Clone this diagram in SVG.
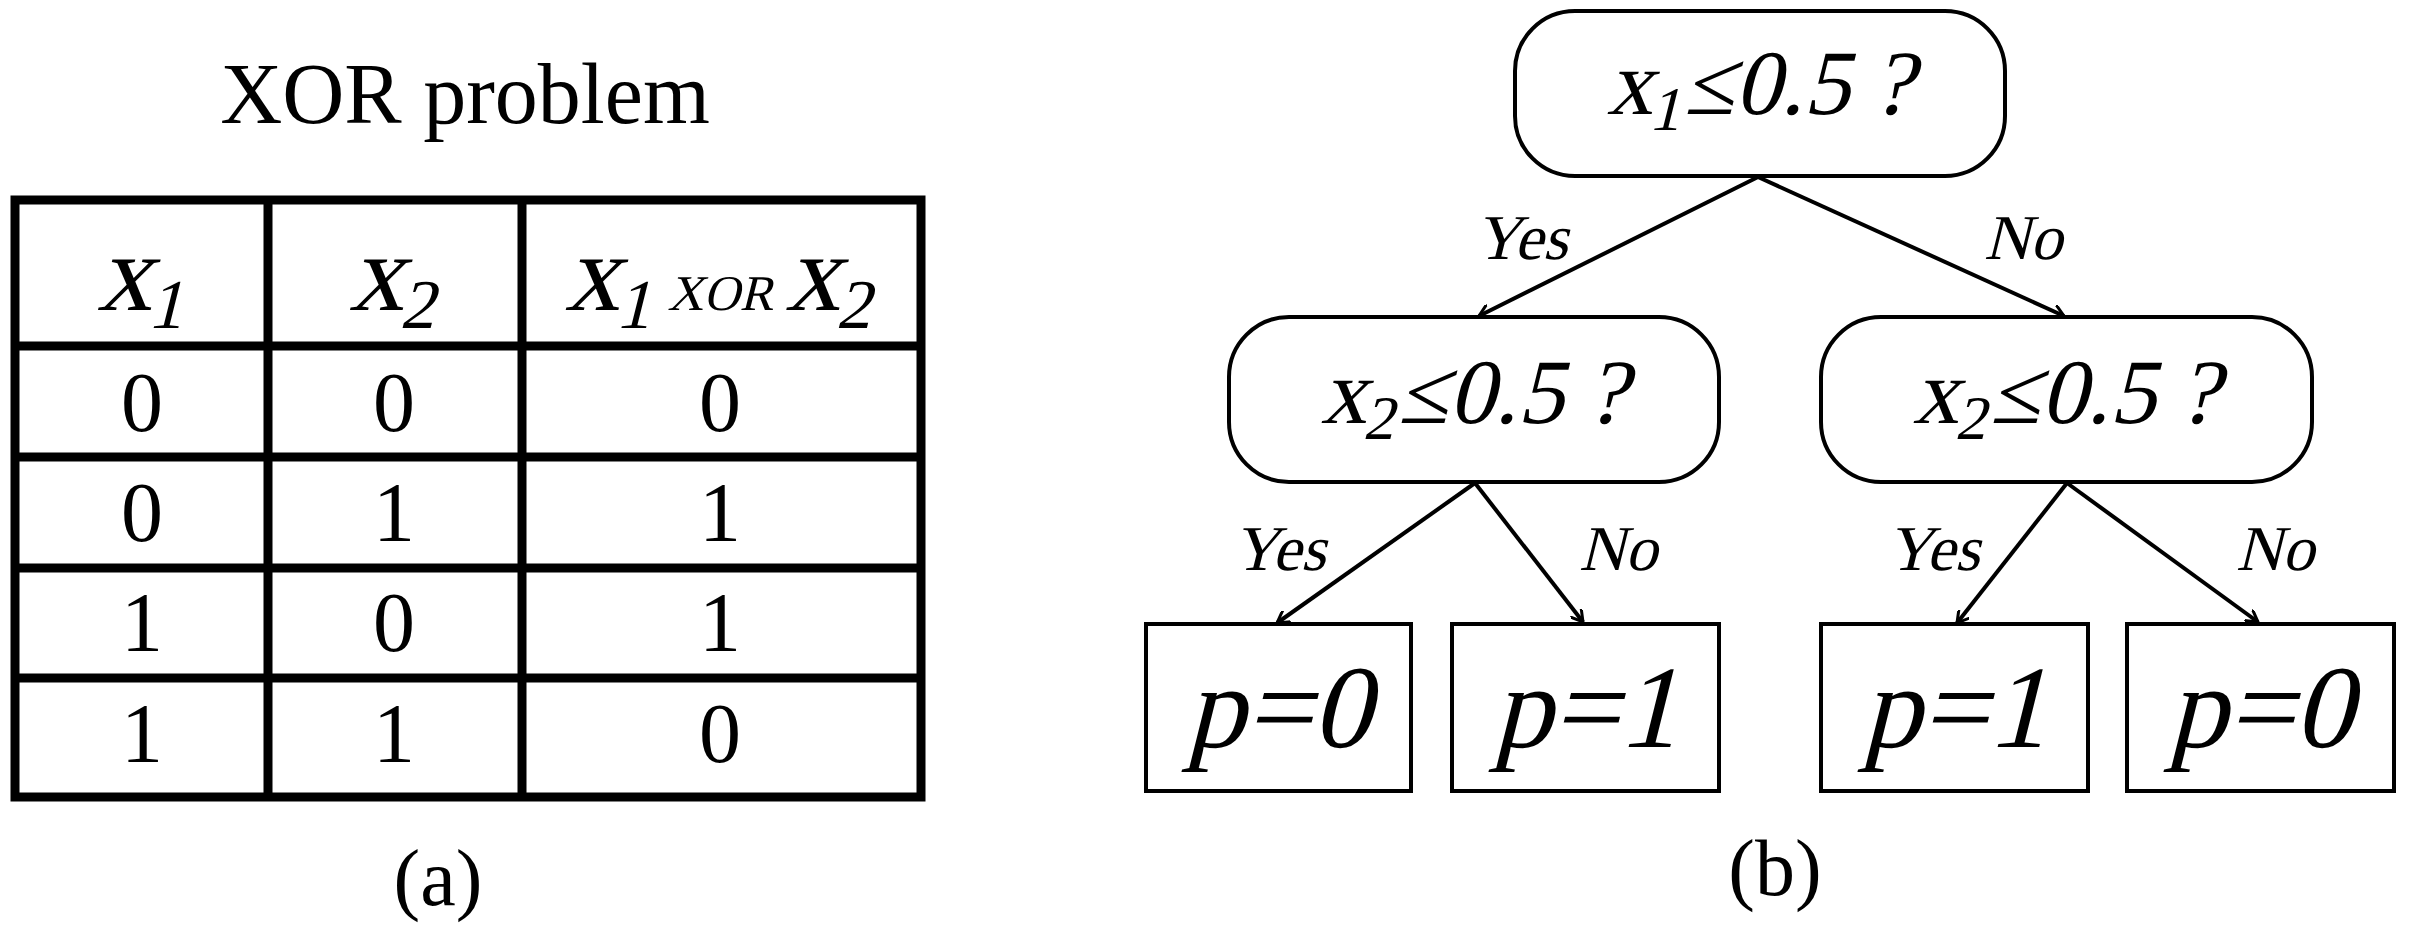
<svg xmlns="http://www.w3.org/2000/svg" width="2409" height="941" viewBox="0 0 2409 941">
<style>
text{font-family:"Liberation Serif",serif;fill:#000}
.n{font-size:84px;text-anchor:middle}
.box{fill:#fff;stroke:#000;stroke-width:4}
.c{stroke:#000;stroke-width:4;fill:none}
.lbl{font-size:64px;text-anchor:middle}
.nt{font-size:92px;text-anchor:middle}
.lt{font-size:118px;text-anchor:middle}
</style>
<defs>
<marker id="ah" markerWidth="14" markerHeight="14" refX="12" refY="7" orient="auto" markerUnits="userSpaceOnUse" viewBox="0 0 14 14">
<polyline points="0,0 12,7 0,14" fill="none" stroke="#000" stroke-width="3"/>
</marker>
</defs>
<text x="465" y="123" font-size="86" text-anchor="middle">XOR problem</text>
<g id="table">
<rect x="15" y="200" width="906" height="597" fill="none" stroke="#000" stroke-width="9"/>
<g stroke="#000" stroke-width="9">
<line x1="268" y1="200" x2="268" y2="797"/>
<line x1="522" y1="200" x2="522" y2="797"/>
<line x1="15" y1="346" x2="921" y2="346"/>
<line x1="15" y1="457" x2="921" y2="457"/>
<line x1="15" y1="568" x2="921" y2="568"/>
<line x1="15" y1="678" x2="921" y2="678"/>
</g>
<text transform="translate(142,310) skewX(-14)" font-size="110" text-anchor="middle">x<tspan font-size="70" dy="18">1</tspan></text>
<text transform="translate(394,310) skewX(-14)" font-size="110" text-anchor="middle">x<tspan font-size="70" dy="18">2</tspan></text>
<text transform="translate(720,310) skewX(-14)" font-size="110" text-anchor="middle">x<tspan font-size="70" dy="18">1</tspan><tspan font-size="50" dy="-18"> XOR </tspan>x<tspan font-size="70" dy="18">2</tspan></text>
<text x="142" y="431" class="n">0</text><text x="394" y="431" class="n">0</text><text x="720" y="431" class="n">0</text>
<text x="142" y="541" class="n">0</text><text x="394" y="541" class="n">1</text><text x="720" y="541" class="n">1</text>
<text x="142" y="651" class="n">1</text><text x="394" y="651" class="n">0</text><text x="720" y="651" class="n">1</text>
<text x="142" y="762" class="n">1</text><text x="394" y="762" class="n">1</text><text x="720" y="762" class="n">0</text>
</g>
<text x="438" y="905" font-size="80" text-anchor="middle">(a)</text>
<g id="connectors">
<line class="c" x1="1758" y1="177" x2="1479" y2="316" marker-end="url(#ah)"/>
<line class="c" x1="1758" y1="177" x2="2064" y2="316" marker-end="url(#ah)"/>
<line class="c" x1="1475" y1="483" x2="1277" y2="623" marker-end="url(#ah)"/>
<line class="c" x1="1475" y1="483" x2="1583" y2="622" marker-end="url(#ah)"/>
<line class="c" x1="2067" y1="483" x2="1957" y2="623" marker-end="url(#ah)"/>
<line class="c" x1="2067" y1="483" x2="2258" y2="622" marker-end="url(#ah)"/>
<text transform="translate(1521,259) skewX(-14)" class="lbl">Yes</text>
<text transform="translate(2023,259) skewX(-14)" class="lbl">No</text>
<text transform="translate(1279,570) skewX(-14)" class="lbl">Yes</text>
<text transform="translate(1618,570) skewX(-14)" class="lbl">No</text>
<text transform="translate(1933,570) skewX(-14)" class="lbl">Yes</text>
<text transform="translate(2275,570) skewX(-14)" class="lbl">No</text>
</g>
<g id="root"><rect class="box" x="1515" y="11" width="490" height="165" rx="60"/>
<text transform="translate(1760,114) skewX(-14)" class="nt">x<tspan font-size="62" dy="16">1</tspan><tspan dy="-16">≤0.5 ?</tspan></text></g>
<g id="midL"><rect class="box" x="1229" y="317" width="490" height="165" rx="60"/>
<text transform="translate(1474,423) skewX(-14)" class="nt">x<tspan font-size="62" dy="16">2</tspan><tspan dy="-16">≤0.5 ?</tspan></text></g>
<g id="midR"><rect class="box" x="1821" y="317" width="491" height="165" rx="60"/>
<text transform="translate(2066,423) skewX(-14)" class="nt">x<tspan font-size="62" dy="16">2</tspan><tspan dy="-16">≤0.5 ?</tspan></text></g>
<g id="leaf1"><rect class="box" x="1146" y="624" width="265" height="167"/><text transform="translate(1278,747) skewX(-14)" class="lt">p=0</text></g>
<g id="leaf2"><rect class="box" x="1452" y="624" width="267" height="167"/><text transform="translate(1585,747) skewX(-14)" class="lt">p=1</text></g>
<g id="leaf3"><rect class="box" x="1821" y="624" width="267" height="167"/><text transform="translate(1954,747) skewX(-14)" class="lt">p=1</text></g>
<g id="leaf4"><rect class="box" x="2127" y="624" width="267" height="167"/><text transform="translate(2260,747) skewX(-14)" class="lt">p=0</text></g>
<text x="1775" y="895" font-size="80" text-anchor="middle">(b)</text>
</svg>
